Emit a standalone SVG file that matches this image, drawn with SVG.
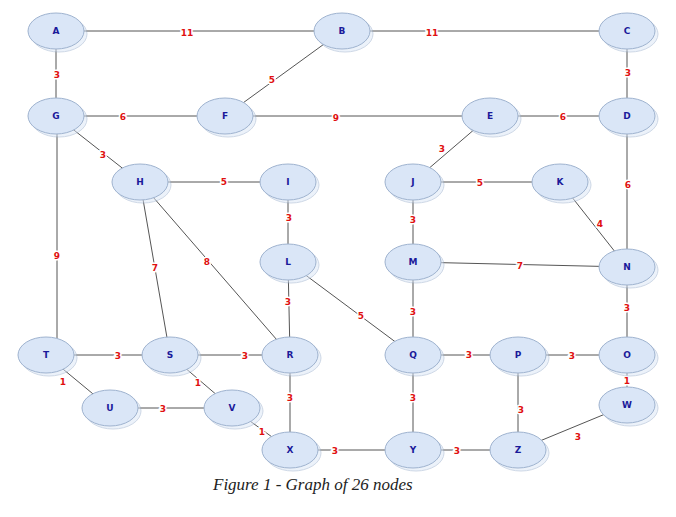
<svg xmlns="http://www.w3.org/2000/svg" width="676" height="517" viewBox="0 0 676 517">
<style>
.n ellipse{fill:#dae6f7;stroke:#9fb3cf;stroke-width:1}
.sh{fill:#b8b8b8;opacity:.5}
.n text{font-family:"DejaVu Sans",sans-serif;font-weight:bold;font-size:9px;fill:#1a1a9a;text-anchor:middle;dominant-baseline:central}
#edges line{stroke:#555;stroke-width:1}
.w{font-family:"DejaVu Sans",sans-serif;font-weight:bold;font-size:9px;fill:#e01010;text-anchor:middle;dominant-baseline:central;stroke:#fff;stroke-width:3;paint-order:stroke}
</style>
<rect width="676" height="517" fill="#fff"/>
<g id="edges">
<line x1="56" y1="31" x2="342" y2="31"/><line x1="342" y1="31" x2="627" y2="31"/>
<line x1="56" y1="31" x2="56" y2="116"/><line x1="627" y1="31" x2="627" y2="116"/>
<line x1="342" y1="31" x2="225" y2="116"/><line x1="56" y1="116" x2="225" y2="116"/>
<line x1="225" y1="116" x2="490" y2="116"/><line x1="490" y1="116" x2="627" y2="116"/>
<line x1="56" y1="116" x2="140" y2="182"/><line x1="490" y1="116" x2="413" y2="182"/>
<line x1="627" y1="116" x2="627" y2="267"/><line x1="140" y1="182" x2="288" y2="182"/>
<line x1="413" y1="182" x2="560" y2="182"/><line x1="560" y1="182" x2="627" y2="267"/>
<line x1="288" y1="182" x2="288" y2="262"/><line x1="413" y1="182" x2="413" y2="262"/>
<line x1="57" y1="116" x2="57" y2="355"/><line x1="140" y1="182" x2="170" y2="355"/>
<line x1="140" y1="182" x2="290" y2="355"/><line x1="413" y1="262" x2="627" y2="267"/>
<line x1="288" y1="262" x2="290" y2="355"/><line x1="288" y1="262" x2="413" y2="355"/>
<line x1="413" y1="262" x2="413" y2="355"/><line x1="627" y1="267" x2="627" y2="355"/>
<line x1="46" y1="355" x2="170" y2="355"/><line x1="170" y1="355" x2="290" y2="355"/>
<line x1="413" y1="355" x2="518" y2="355"/><line x1="518" y1="355" x2="627" y2="355"/>
<line x1="46" y1="355" x2="110" y2="408"/><line x1="170" y1="355" x2="232" y2="408"/>
<line x1="627" y1="355" x2="627" y2="405"/><line x1="110" y1="408" x2="232" y2="408"/>
<line x1="290" y1="355" x2="290" y2="450"/><line x1="413" y1="355" x2="413" y2="450"/>
<line x1="518" y1="355" x2="518" y2="450"/><line x1="232" y1="408" x2="290" y2="450"/>
<line x1="627" y1="405" x2="518" y2="450"/><line x1="290" y1="450" x2="413" y2="450"/>
<line x1="413" y1="450" x2="518" y2="450"/>
</g>
<g id="weights">
<text class="w" x="187" y="33">11</text><text class="w" x="432" y="33">11</text>
<text class="w" x="57" y="75">3</text><text class="w" x="628" y="73">3</text>
<text class="w" x="272" y="80">5</text><text class="w" x="123" y="117">6</text>
<text class="w" x="336" y="118">9</text><text class="w" x="563" y="117">6</text>
<text class="w" x="103" y="155">3</text><text class="w" x="442" y="149">3</text>
<text class="w" x="628" y="185">6</text><text class="w" x="224" y="182">5</text>
<text class="w" x="480" y="183">5</text><text class="w" x="600" y="224">4</text>
<text class="w" x="289" y="218">3</text><text class="w" x="413" y="220">3</text>
<text class="w" x="57" y="256">9</text><text class="w" x="155" y="268">7</text>
<text class="w" x="207" y="262">8</text><text class="w" x="520" y="266">7</text>
<text class="w" x="288" y="302">3</text><text class="w" x="361" y="316">5</text>
<text class="w" x="413" y="312">3</text><text class="w" x="627" y="308">3</text>
<text class="w" x="118" y="356">3</text><text class="w" x="245" y="356">3</text>
<text class="w" x="469" y="355">3</text><text class="w" x="572" y="356">3</text>
<text class="w" x="63" y="382">1</text><text class="w" x="198" y="383">1</text>
<text class="w" x="627" y="381">1</text><text class="w" x="163" y="409">3</text>
<text class="w" x="290" y="398">3</text><text class="w" x="413" y="398">3</text>
<text class="w" x="521" y="410">3</text><text class="w" x="262" y="432">1</text>
<text class="w" x="578" y="437">3</text><text class="w" x="335" y="451">3</text>
<text class="w" x="457" y="451">3</text>
</g>
<g id="A" class="n" transform="translate(56,31)"><ellipse class="sh" cx="3" cy="3" rx="28" ry="18"/><ellipse rx="28" ry="18"/><text>A</text></g>
<g id="B" class="n" transform="translate(342,31)"><ellipse class="sh" cx="3" cy="3" rx="28" ry="18"/><ellipse rx="28" ry="18"/><text>B</text></g>
<g id="C" class="n" transform="translate(627,31)"><ellipse class="sh" cx="3" cy="3" rx="28" ry="18"/><ellipse rx="28" ry="18"/><text>C</text></g>
<g id="G" class="n" transform="translate(56,116)"><ellipse class="sh" cx="3" cy="3" rx="28" ry="18"/><ellipse rx="28" ry="18"/><text>G</text></g>
<g id="F" class="n" transform="translate(225,116)"><ellipse class="sh" cx="3" cy="3" rx="28" ry="18"/><ellipse rx="28" ry="18"/><text>F</text></g>
<g id="E" class="n" transform="translate(490,116)"><ellipse class="sh" cx="3" cy="3" rx="28" ry="18"/><ellipse rx="28" ry="18"/><text>E</text></g>
<g id="D" class="n" transform="translate(627,116)"><ellipse class="sh" cx="3" cy="3" rx="28" ry="18"/><ellipse rx="28" ry="18"/><text>D</text></g>
<g id="H" class="n" transform="translate(140,182)"><ellipse class="sh" cx="3" cy="3" rx="28" ry="18"/><ellipse rx="28" ry="18"/><text>H</text></g>
<g id="I" class="n" transform="translate(288,182)"><ellipse class="sh" cx="3" cy="3" rx="28" ry="18"/><ellipse rx="28" ry="18"/><text>I</text></g>
<g id="J" class="n" transform="translate(413,182)"><ellipse class="sh" cx="3" cy="3" rx="28" ry="18"/><ellipse rx="28" ry="18"/><text>J</text></g>
<g id="K" class="n" transform="translate(560,182)"><ellipse class="sh" cx="3" cy="3" rx="28" ry="18"/><ellipse rx="28" ry="18"/><text>K</text></g>
<g id="L" class="n" transform="translate(288,262)"><ellipse class="sh" cx="3" cy="3" rx="28" ry="18"/><ellipse rx="28" ry="18"/><text>L</text></g>
<g id="M" class="n" transform="translate(413,262)"><ellipse class="sh" cx="3" cy="3" rx="28" ry="18"/><ellipse rx="28" ry="18"/><text>M</text></g>
<g id="N" class="n" transform="translate(627,267)"><ellipse class="sh" cx="3" cy="3" rx="28" ry="18"/><ellipse rx="28" ry="18"/><text>N</text></g>
<g id="T" class="n" transform="translate(46,355)"><ellipse class="sh" cx="3" cy="3" rx="28" ry="18"/><ellipse rx="28" ry="18"/><text>T</text></g>
<g id="S" class="n" transform="translate(170,355)"><ellipse class="sh" cx="3" cy="3" rx="28" ry="18"/><ellipse rx="28" ry="18"/><text>S</text></g>
<g id="R" class="n" transform="translate(290,355)"><ellipse class="sh" cx="3" cy="3" rx="28" ry="18"/><ellipse rx="28" ry="18"/><text>R</text></g>
<g id="Q" class="n" transform="translate(413,355)"><ellipse class="sh" cx="3" cy="3" rx="28" ry="18"/><ellipse rx="28" ry="18"/><text>Q</text></g>
<g id="P" class="n" transform="translate(518,355)"><ellipse class="sh" cx="3" cy="3" rx="28" ry="18"/><ellipse rx="28" ry="18"/><text>P</text></g>
<g id="O" class="n" transform="translate(627,355)"><ellipse class="sh" cx="3" cy="3" rx="28" ry="18"/><ellipse rx="28" ry="18"/><text>O</text></g>
<g id="U" class="n" transform="translate(110,408)"><ellipse class="sh" cx="3" cy="3" rx="28" ry="18"/><ellipse rx="28" ry="18"/><text>U</text></g>
<g id="V" class="n" transform="translate(232,408)"><ellipse class="sh" cx="3" cy="3" rx="28" ry="18"/><ellipse rx="28" ry="18"/><text>V</text></g>
<g id="W" class="n" transform="translate(627,405)"><ellipse class="sh" cx="3" cy="3" rx="28" ry="18"/><ellipse rx="28" ry="18"/><text>W</text></g>
<g id="X" class="n" transform="translate(290,450)"><ellipse class="sh" cx="3" cy="3" rx="28" ry="18"/><ellipse rx="28" ry="18"/><text>X</text></g>
<g id="Y" class="n" transform="translate(413,450)"><ellipse class="sh" cx="3" cy="3" rx="28" ry="18"/><ellipse rx="28" ry="18"/><text>Y</text></g>
<g id="Z" class="n" transform="translate(518,450)"><ellipse class="sh" cx="3" cy="3" rx="28" ry="18"/><ellipse rx="28" ry="18"/><text>Z</text></g>
<text x="213" y="490" font-family="Liberation Serif, serif" font-style="italic" font-size="17" fill="#222">Figure 1 - Graph of 26 nodes</text>
</svg>
